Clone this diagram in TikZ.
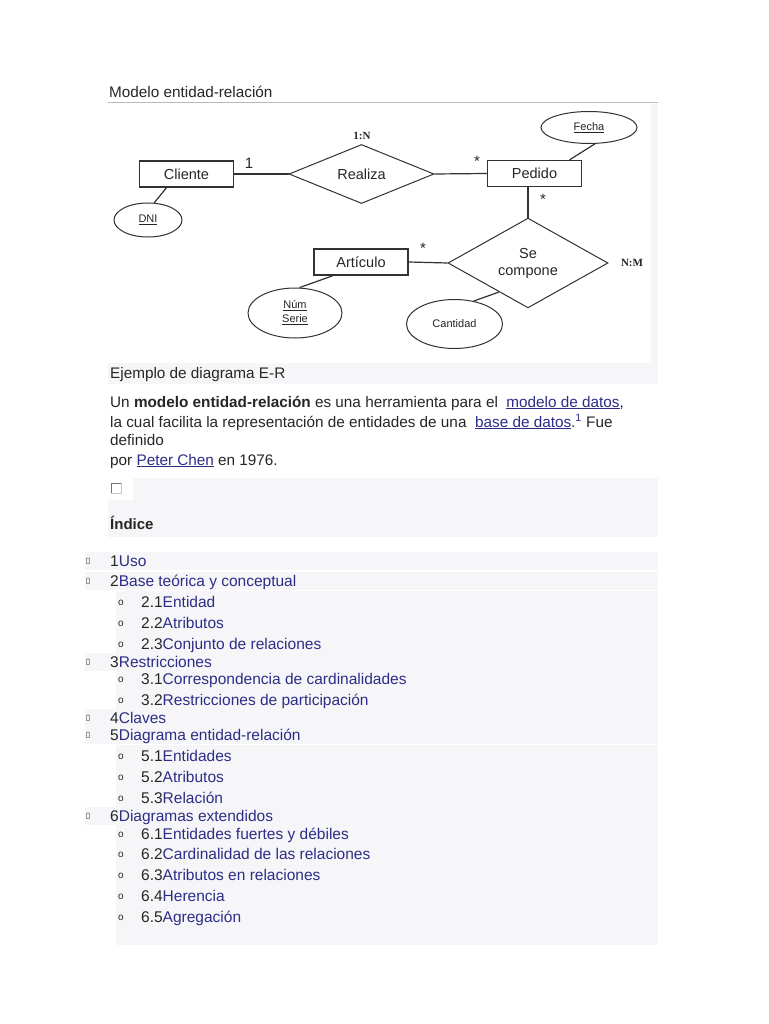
\documentclass[tikz,border=0pt]{standalone}
\usepackage{fontspec}
\setmainfont{Liberation Sans}
\newfontfamily\erfont{Liberation Serif}
\newfontfamily\symfont{DejaVu Sans}
\usetikzlibrary{
    shapes.geometric,
    positioning,
    calc,
}

\definecolor{linkblue}{RGB}{45,45,135}
\definecolor{bandgrey}{RGB}{246,246,248}
\definecolor{inkgrey}{RGB}{38,38,38}
\definecolor{penline}{RGB}{50,50,50}

\newcommand{\lnk}[1]{\textcolor{linkblue}{\underline{#1}}}

% contents rows: y / level / number / title
\def\tocrows{561/1/1/Uso, 581/1/2/Base teórica y conceptual,
    602/2/2.1/Entidad, 623/2/2.2/Atributos, 644/2/2.3/Conjunto de relaciones,
    662/1/3/Restricciones, 679/2/3.1/Correspondencia de cardinalidades,
    700/2/3.2/Restricciones de participación, 718/1/4/Claves,
    735/1/5/Diagrama entidad-relación, 756/2/5.1/Entidades,
    777/2/5.2/Atributos, 798/2/5.3/Relación, 816/1/6/Diagramas extendidos,
    834/2/6.1/Entidades fuertes y débiles, 854/2/6.2/Cardinalidad de las relaciones,
    875/2/6.3/Atributos en relaciones, 896/2/6.4/Herencia, 917/2/6.5/Agregación}

\begin{document}
\begin{tikzpicture}[
        x=1pt, y=-1pt,
        body/.style={inner sep=0pt, anchor=base west, text=inkgrey,
            font=\fontsize{15.3}{18}\selectfont},
        tocline/.style={body, font=\fontsize{15.5}{18}\selectfont},
        entity/.style={draw=penline, line width=1.3pt, fill=white,
            minimum width=94pt, minimum height=26pt, inner sep=0pt,
            text=inkgrey, font=\fontsize{14.5}{15}\selectfont},
        relation/.style={diamond, draw=penline, line width=1pt, fill=white,
            inner sep=0pt, align=center, text=inkgrey,
            font=\fontsize{14.5}{17}\selectfont},
        attribute/.style={ellipse, draw=penline, line width=1pt, fill=white,
            inner sep=0pt, align=center, text=inkgrey,
            font=\fontsize{11}{14}\selectfont},
        card/.style={inner sep=0pt, text=inkgrey, font=\fontsize{15}{15}\selectfont},
        ratio/.style={inner sep=0pt, text=inkgrey,
            font=\erfont\bfseries\fontsize{11}{11}\selectfont},
        link/.style={draw=penline, line width=1.2pt},
        band/.style={fill=bandgrey},
    ]
    \useasboundingbox (0,0) rectangle (768,1024);
    \fill[white] (0,0) rectangle (768,1024);

    % page backgrounds
    \fill[band] (108,104) rectangle (658,384);
    \fill[white] (108,104) rectangle (651,363);
    \fill[band] (108,478) rectangle (658,537);
    \fill[white] (108,478) rectangle (133,500);
    \foreach \y/\lev/\num/\txt in \tocrows {
        \ifnum\lev=1
            \fill[band] (85,\y-9) rectangle (658,\y+9);
        \else
            \fill[band] (116,\y-11) rectangle (658,\y+11);
        \fi
    }
    \fill[band] (116,927) rectangle (658,945);

    % heading
    \node[body] (title) at (109,98) {Modelo entidad-relación};
    \draw[gray!55, line width=0.8pt] (108,102.5) -- (658,102.5);

    % E-R diagram
    \node[entity] (cliente) at (186.5,174) {Cliente};
    \node[entity] (pedido) at (534.5,173.5) {Pedido};
    \node[entity] (articulo) at (361,262) {Artículo};
    \node[relation, minimum width=145pt, minimum height=50pt] (realiza) at (361.5,174) {Realiza};
    \node[relation, minimum width=160pt, minimum height=76pt] (compone) at (528,263) {Se\\compone};
    \node[attribute, minimum width=68pt, minimum height=34pt] (dni) at (148,220) {\underline{DNI}};
    \node[attribute, minimum width=96pt, minimum height=32pt] (fecha) at (589,127.5) {\underline{Fecha}};
    \node[attribute, minimum width=94pt, minimum height=50pt] (numserie) at (295,313) {\underline{Núm}\\\underline{Serie}};
    \node[attribute, minimum width=96pt, minimum height=49pt] (cantidad) at (454.5,324) {Cantidad};

    \draw[link] (cliente.east) -- (realiza.west);
    \draw[link] (realiza.east) -- (pedido.west);
    \draw[link] (compone.north) -- (compone.north |- pedido.south);
    \draw[link] (articulo.east) -- (compone.west);
    \draw[link] ([xshift=-20pt]cliente.south) -- (dni.70);
    \draw[link] ([xshift=35pt]pedido.north) -- (fecha.-70);
    \draw[link] ([xshift=-28pt]articulo.south) -- (numserie.80);
    \draw[link] (compone.-135) -- (cantidad.50);

    \node[card] (c1) at (249,163) {1};
    \node[card] (c2) at (477,161) {*};
    \node[card] (c3) at (543,199) {*};
    \node[card] (c4) at (423,248) {*};
    \node[ratio] (r1) at (362,136) {1:N};
    \node[ratio] (r2) at (632,263) {N:M};

    \node[body] (caption) at (110,378) {Ejemplo de diagrama E-R};

    % intro paragraph
    \node[body] (line1) at (110,407) {Un \textbf{modelo entidad-relación} es una herramienta para el \ \lnk{modelo de datos},};
    \node[body] (line2) at (110,427) {la cual facilita la representación de entidades de una \ \lnk{base de datos}.\textsuperscript{\textcolor{linkblue}{1}} Fue};
    \node[body] (line3) at (110,445) {definido};
    \node[body] (line4) at (110,465) {por \lnk{Peter Chen} en 1976.};

    % broken image icon and contents heading
    \draw[gray!45, line width=0.8pt] (111,493) -- (121,493) -- (121,483);
    \draw[gray!90!black, line width=0.8pt] (111,493) -- (111,483) -- (121,483);
    \node[body, font=\bfseries\fontsize{15}{18}\selectfont] (indice) at (110,529) {Índice};

    % contents list
    \foreach \y/\lev/\num/\txt [count=\i] in \tocrows {
        \ifnum\lev=1
            \node[inner sep=0pt, text=inkgrey, font=\symfont\fontsize{8}{8}\selectfont] (mark\i) at (88,\y) {▯};
            \node[tocline] (row\i) at (110,\y+5) {\num\textcolor{linkblue}{\txt}};
        \else
            \node[inner sep=0pt, text=inkgrey, font=\fontsize{10}{10}\selectfont] (mark\i) at (121,\y+1) {o};
            \node[tocline] (row\i) at (141,\y+5) {\num\textcolor{linkblue}{\txt}};
        \fi
    }
\end{tikzpicture}
\end{document}
